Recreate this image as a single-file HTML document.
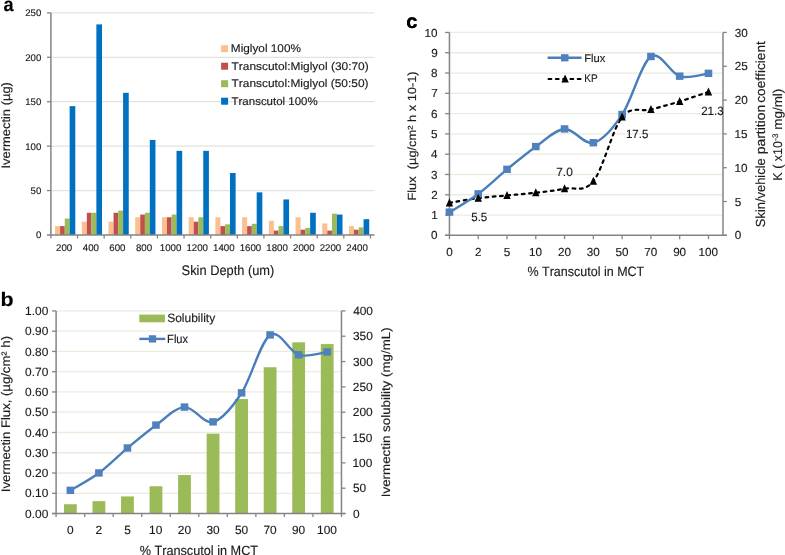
<!DOCTYPE html>
<html><head><meta charset="utf-8"><style>
html,body{margin:0;padding:0;background:#fff;width:785px;height:555px;overflow:hidden}
svg{display:block;will-change:transform}
text{font-family:"Liberation Sans",sans-serif;font-kerning:none;text-rendering:geometricPrecision;stroke-width:0.15px;white-space:pre}
</style></head><body>
<svg width="785" height="555" viewBox="0 0 785 555">
<rect width="785" height="555" fill="#fff"/>
<line x1="50.9" y1="190.57" x2="374.5" y2="190.57" stroke="#e4e3da" stroke-width="1.3"/>
<line x1="50.9" y1="146.14" x2="374.5" y2="146.14" stroke="#e4e3da" stroke-width="1.3"/>
<line x1="50.9" y1="101.71" x2="374.5" y2="101.71" stroke="#e4e3da" stroke-width="1.3"/>
<line x1="50.9" y1="57.28" x2="374.5" y2="57.28" stroke="#e4e3da" stroke-width="1.3"/>
<line x1="50.9" y1="12.85" x2="374.5" y2="12.85" stroke="#e4e3da" stroke-width="1.3"/>
<rect x="55.05" y="226.11" width="5.05" height="8.89" fill="#fac090"/>
<rect x="60.1" y="226.11" width="4.65" height="8.89" fill="#c0504d"/>
<rect x="64.75" y="218.56" width="4.9" height="16.44" fill="#9bbb59"/>
<rect x="69.65" y="106.15" width="5.65" height="128.85" fill="#0070c0"/>
<rect x="81.77" y="221.67" width="5.05" height="13.33" fill="#fac090"/>
<rect x="86.82" y="212.78" width="4.65" height="22.22" fill="#c0504d"/>
<rect x="91.47" y="212.78" width="4.9" height="22.22" fill="#9bbb59"/>
<rect x="96.37" y="24.4" width="5.65" height="210.6" fill="#0070c0"/>
<rect x="108.49" y="221.67" width="5.05" height="13.33" fill="#fac090"/>
<rect x="113.54" y="212.78" width="4.65" height="22.22" fill="#c0504d"/>
<rect x="118.19" y="210.56" width="4.9" height="24.44" fill="#9bbb59"/>
<rect x="123.09" y="92.82" width="5.65" height="142.18" fill="#0070c0"/>
<rect x="135.21" y="217.23" width="5.05" height="17.77" fill="#fac090"/>
<rect x="140.26" y="214.56" width="4.65" height="20.44" fill="#c0504d"/>
<rect x="144.91" y="212.78" width="4.9" height="22.22" fill="#9bbb59"/>
<rect x="149.81" y="139.92" width="5.65" height="95.08" fill="#0070c0"/>
<rect x="161.93" y="217.23" width="5.05" height="17.77" fill="#fac090"/>
<rect x="166.98" y="217.23" width="4.65" height="17.77" fill="#c0504d"/>
<rect x="171.63" y="214.56" width="4.9" height="20.44" fill="#9bbb59"/>
<rect x="176.53" y="150.85" width="5.65" height="84.15" fill="#0070c0"/>
<rect x="188.65" y="217.23" width="5.05" height="17.77" fill="#fac090"/>
<rect x="193.7" y="221.67" width="4.65" height="13.33" fill="#c0504d"/>
<rect x="198.35" y="217.23" width="4.9" height="17.77" fill="#9bbb59"/>
<rect x="203.25" y="150.85" width="5.65" height="84.15" fill="#0070c0"/>
<rect x="215.37" y="217.23" width="5.05" height="17.77" fill="#fac090"/>
<rect x="220.42" y="226.11" width="4.65" height="8.89" fill="#c0504d"/>
<rect x="225.07" y="224.34" width="4.9" height="10.66" fill="#9bbb59"/>
<rect x="229.97" y="172.98" width="5.65" height="62.02" fill="#0070c0"/>
<rect x="242.09" y="217.23" width="5.05" height="17.77" fill="#fac090"/>
<rect x="247.14" y="226.11" width="4.65" height="8.89" fill="#c0504d"/>
<rect x="251.79" y="223.8" width="4.9" height="11.2" fill="#9bbb59"/>
<rect x="256.69" y="192.35" width="5.65" height="42.65" fill="#0070c0"/>
<rect x="268.81" y="220.78" width="5.05" height="14.22" fill="#fac090"/>
<rect x="273.86" y="230.56" width="4.65" height="4.44" fill="#c0504d"/>
<rect x="278.51" y="226.11" width="4.9" height="8.89" fill="#9bbb59"/>
<rect x="283.41" y="199.46" width="5.65" height="35.54" fill="#0070c0"/>
<rect x="295.53" y="217.23" width="5.05" height="17.77" fill="#fac090"/>
<rect x="300.58" y="229.67" width="4.65" height="5.33" fill="#c0504d"/>
<rect x="305.23" y="227.89" width="4.9" height="7.11" fill="#9bbb59"/>
<rect x="310.13" y="212.78" width="5.65" height="22.22" fill="#0070c0"/>
<rect x="322.25" y="223.45" width="5.05" height="11.55" fill="#fac090"/>
<rect x="327.3" y="230.56" width="4.65" height="4.44" fill="#c0504d"/>
<rect x="331.95" y="213.67" width="4.9" height="21.33" fill="#9bbb59"/>
<rect x="336.85" y="214.56" width="5.65" height="20.44" fill="#0070c0"/>
<rect x="348.97" y="226.11" width="5.05" height="8.89" fill="#fac090"/>
<rect x="354.02" y="229.67" width="4.65" height="5.33" fill="#c0504d"/>
<rect x="358.67" y="227.36" width="4.9" height="7.64" fill="#9bbb59"/>
<rect x="363.57" y="219.18" width="5.65" height="15.82" fill="#0070c0"/>
<line x1="50.9" y1="13" x2="50.9" y2="235.7" stroke="#848484" stroke-width="1.5"/>
<line x1="47" y1="235.0" x2="374.5" y2="235.0" stroke="#848484" stroke-width="1.5"/>
<line x1="47" y1="190.57" x2="50.9" y2="190.57" stroke="#848484" stroke-width="1.3"/>
<line x1="47" y1="146.14" x2="50.9" y2="146.14" stroke="#848484" stroke-width="1.3"/>
<line x1="47" y1="101.71" x2="50.9" y2="101.71" stroke="#848484" stroke-width="1.3"/>
<line x1="47" y1="57.28" x2="50.9" y2="57.28" stroke="#848484" stroke-width="1.3"/>
<line x1="47" y1="12.85" x2="50.9" y2="12.85" stroke="#848484" stroke-width="1.3"/>
<line x1="50.9" y1="235.0" x2="50.9" y2="238.5" stroke="#848484" stroke-width="1.3"/>
<line x1="77.53" y1="235.0" x2="77.53" y2="238.5" stroke="#848484" stroke-width="1.3"/>
<line x1="104.16" y1="235.0" x2="104.16" y2="238.5" stroke="#848484" stroke-width="1.3"/>
<line x1="130.79" y1="235.0" x2="130.79" y2="238.5" stroke="#848484" stroke-width="1.3"/>
<line x1="157.42" y1="235.0" x2="157.42" y2="238.5" stroke="#848484" stroke-width="1.3"/>
<line x1="184.05" y1="235.0" x2="184.05" y2="238.5" stroke="#848484" stroke-width="1.3"/>
<line x1="210.68" y1="235.0" x2="210.68" y2="238.5" stroke="#848484" stroke-width="1.3"/>
<line x1="237.31" y1="235.0" x2="237.31" y2="238.5" stroke="#848484" stroke-width="1.3"/>
<line x1="263.94" y1="235.0" x2="263.94" y2="238.5" stroke="#848484" stroke-width="1.3"/>
<line x1="290.57" y1="235.0" x2="290.57" y2="238.5" stroke="#848484" stroke-width="1.3"/>
<line x1="317.2" y1="235.0" x2="317.2" y2="238.5" stroke="#848484" stroke-width="1.3"/>
<line x1="343.83" y1="235.0" x2="343.83" y2="238.5" stroke="#848484" stroke-width="1.3"/>
<line x1="370.46" y1="235.0" x2="370.46" y2="238.5" stroke="#848484" stroke-width="1.3"/>
<text x="35.94" y="238.4" font-size="9.6" font-weight="normal" fill="#1c1c1c" stroke="#1c1c1c" textLength="5.34" lengthAdjust="spacingAndGlyphs">0</text>
<text x="30.6" y="193.97" font-size="9.6" font-weight="normal" fill="#1c1c1c" stroke="#1c1c1c" textLength="10.68" lengthAdjust="spacingAndGlyphs">50</text>
<text x="25.26" y="149.54" font-size="9.6" font-weight="normal" fill="#1c1c1c" stroke="#1c1c1c" textLength="16.02" lengthAdjust="spacingAndGlyphs">100</text>
<text x="25.26" y="105.11" font-size="9.6" font-weight="normal" fill="#1c1c1c" stroke="#1c1c1c" textLength="16.02" lengthAdjust="spacingAndGlyphs">150</text>
<text x="25.26" y="60.68" font-size="9.6" font-weight="normal" fill="#1c1c1c" stroke="#1c1c1c" textLength="16.02" lengthAdjust="spacingAndGlyphs">200</text>
<text x="25.26" y="16.25" font-size="9.6" font-weight="normal" fill="#1c1c1c" stroke="#1c1c1c" textLength="16.02" lengthAdjust="spacingAndGlyphs">250</text>
<text x="56.07" y="251.2" font-size="9.7" font-weight="normal" fill="#1c1c1c" stroke="#1c1c1c" textLength="16.18" lengthAdjust="spacingAndGlyphs">200</text>
<text x="82.83" y="251.2" font-size="9.7" font-weight="normal" fill="#1c1c1c" stroke="#1c1c1c" textLength="16.18" lengthAdjust="spacingAndGlyphs">400</text>
<text x="109.33" y="251.2" font-size="9.7" font-weight="normal" fill="#1c1c1c" stroke="#1c1c1c" textLength="16.18" lengthAdjust="spacingAndGlyphs">600</text>
<text x="135.99" y="251.2" font-size="9.7" font-weight="normal" fill="#1c1c1c" stroke="#1c1c1c" textLength="16.18" lengthAdjust="spacingAndGlyphs">800</text>
<text x="159.77" y="251.2" font-size="9.7" font-weight="normal" fill="#1c1c1c" stroke="#1c1c1c" textLength="21.58" lengthAdjust="spacingAndGlyphs">1000</text>
<text x="186.4" y="251.2" font-size="9.7" font-weight="normal" fill="#1c1c1c" stroke="#1c1c1c" textLength="21.58" lengthAdjust="spacingAndGlyphs">1200</text>
<text x="213.03" y="251.2" font-size="9.7" font-weight="normal" fill="#1c1c1c" stroke="#1c1c1c" textLength="21.58" lengthAdjust="spacingAndGlyphs">1400</text>
<text x="239.66" y="251.2" font-size="9.7" font-weight="normal" fill="#1c1c1c" stroke="#1c1c1c" textLength="21.58" lengthAdjust="spacingAndGlyphs">1600</text>
<text x="266.29" y="251.2" font-size="9.7" font-weight="normal" fill="#1c1c1c" stroke="#1c1c1c" textLength="21.58" lengthAdjust="spacingAndGlyphs">1800</text>
<text x="293.04" y="251.2" font-size="9.7" font-weight="normal" fill="#1c1c1c" stroke="#1c1c1c" textLength="21.58" lengthAdjust="spacingAndGlyphs">2000</text>
<text x="319.67" y="251.2" font-size="9.7" font-weight="normal" fill="#1c1c1c" stroke="#1c1c1c" textLength="21.58" lengthAdjust="spacingAndGlyphs">2200</text>
<text x="346.3" y="251.2" font-size="9.7" font-weight="normal" fill="#1c1c1c" stroke="#1c1c1c" textLength="21.58" lengthAdjust="spacingAndGlyphs">2400</text>
<rect x="221.1" y="45.2" width="7" height="7" fill="#fac090"/>
<text x="230.83" y="52.4" font-size="11.2" font-weight="normal" fill="#1c1c1c" stroke="#1c1c1c" textLength="70.09" lengthAdjust="spacingAndGlyphs">Miglyol 100%</text>
<rect x="221.1" y="62.7" width="7" height="7" fill="#c0504d"/>
<text x="231.53" y="69.9" font-size="11.2" font-weight="normal" fill="#1c1c1c" stroke="#1c1c1c" textLength="137.21" lengthAdjust="spacingAndGlyphs">Transcutol:Miglyol (30:70)</text>
<rect x="221.1" y="80.2" width="7" height="7" fill="#9bbb59"/>
<text x="231.53" y="87.4" font-size="11.2" font-weight="normal" fill="#1c1c1c" stroke="#1c1c1c" textLength="137.01" lengthAdjust="spacingAndGlyphs">Transcutol:Miglyol (50:50)</text>
<rect x="221.1" y="97.7" width="7" height="7" fill="#0070c0"/>
<text x="231.54" y="104.9" font-size="11.2" font-weight="normal" fill="#1c1c1c" stroke="#1c1c1c" textLength="86.17" lengthAdjust="spacingAndGlyphs">Transcutol 100%</text>
<text x="181.62" y="274.6" font-size="13.8" font-weight="normal" fill="#1c1c1c" stroke="#1c1c1c" textLength="92.68" lengthAdjust="spacingAndGlyphs">Skin Depth (um)</text>
<text transform="translate(10.1 168.59) rotate(-90)" x="0" y="0" font-size="12.2" fill="#1c1c1c" stroke="#1c1c1c" textLength="86.5" lengthAdjust="spacingAndGlyphs">Ivermectin (µg)</text>
<text x="3.57" y="10.8" font-size="19.5" font-weight="bold" fill="#000" stroke="#000" textLength="10.12" lengthAdjust="spacingAndGlyphs">a</text>
<line x1="449.45" y1="215.06" x2="723.0" y2="215.06" stroke="#ecebe0" stroke-width="1.3"/>
<line x1="449.45" y1="194.77" x2="723.0" y2="194.77" stroke="#ecebe0" stroke-width="1.3"/>
<line x1="449.45" y1="174.48" x2="723.0" y2="174.48" stroke="#ecebe0" stroke-width="1.3"/>
<line x1="449.45" y1="154.19" x2="723.0" y2="154.19" stroke="#ecebe0" stroke-width="1.3"/>
<line x1="449.45" y1="133.9" x2="723.0" y2="133.9" stroke="#ecebe0" stroke-width="1.3"/>
<line x1="449.45" y1="113.61" x2="723.0" y2="113.61" stroke="#ecebe0" stroke-width="1.3"/>
<line x1="449.45" y1="93.32" x2="723.0" y2="93.32" stroke="#ecebe0" stroke-width="1.3"/>
<line x1="449.45" y1="73.03" x2="723.0" y2="73.03" stroke="#ecebe0" stroke-width="1.3"/>
<line x1="449.45" y1="52.74" x2="723.0" y2="52.74" stroke="#ecebe0" stroke-width="1.3"/>
<line x1="449.45" y1="32.45" x2="723.0" y2="32.45" stroke="#ecebe0" stroke-width="1.3"/>
<line x1="449.45" y1="32.45" x2="449.45" y2="235.35" stroke="#848484" stroke-width="1.5"/>
<line x1="723.0" y1="32.45" x2="723.0" y2="235.35" stroke="#848484" stroke-width="1.5"/>
<line x1="445.1" y1="235.35" x2="726.8" y2="235.35" stroke="#848484" stroke-width="1.5"/>
<line x1="445.1" y1="235.35" x2="449.45" y2="235.35" stroke="#848484" stroke-width="1.3"/>
<text x="431.05" y="239.45" font-size="11.7" font-weight="normal" fill="#1c1c1c" stroke="#1c1c1c" textLength="6.51" lengthAdjust="spacingAndGlyphs">0</text>
<line x1="445.1" y1="215.06" x2="449.45" y2="215.06" stroke="#848484" stroke-width="1.3"/>
<text x="431.16" y="219.16" font-size="11.7" font-weight="normal" fill="#1c1c1c" stroke="#1c1c1c" textLength="6.51" lengthAdjust="spacingAndGlyphs">1</text>
<line x1="445.1" y1="194.77" x2="449.45" y2="194.77" stroke="#848484" stroke-width="1.3"/>
<text x="431.18" y="198.87" font-size="11.7" font-weight="normal" fill="#1c1c1c" stroke="#1c1c1c" textLength="6.51" lengthAdjust="spacingAndGlyphs">2</text>
<line x1="445.1" y1="174.48" x2="449.45" y2="174.48" stroke="#848484" stroke-width="1.3"/>
<text x="431.11" y="178.58" font-size="11.7" font-weight="normal" fill="#1c1c1c" stroke="#1c1c1c" textLength="6.51" lengthAdjust="spacingAndGlyphs">3</text>
<line x1="445.1" y1="154.19" x2="449.45" y2="154.19" stroke="#848484" stroke-width="1.3"/>
<text x="430.94" y="158.29" font-size="11.7" font-weight="normal" fill="#1c1c1c" stroke="#1c1c1c" textLength="6.51" lengthAdjust="spacingAndGlyphs">4</text>
<line x1="445.1" y1="133.9" x2="449.45" y2="133.9" stroke="#848484" stroke-width="1.3"/>
<text x="431.08" y="138" font-size="11.7" font-weight="normal" fill="#1c1c1c" stroke="#1c1c1c" textLength="6.51" lengthAdjust="spacingAndGlyphs">5</text>
<line x1="445.1" y1="113.61" x2="449.45" y2="113.61" stroke="#848484" stroke-width="1.3"/>
<text x="431.11" y="117.71" font-size="11.7" font-weight="normal" fill="#1c1c1c" stroke="#1c1c1c" textLength="6.51" lengthAdjust="spacingAndGlyphs">6</text>
<line x1="445.1" y1="93.32" x2="449.45" y2="93.32" stroke="#848484" stroke-width="1.3"/>
<text x="431.18" y="97.42" font-size="11.7" font-weight="normal" fill="#1c1c1c" stroke="#1c1c1c" textLength="6.51" lengthAdjust="spacingAndGlyphs">7</text>
<line x1="445.1" y1="73.03" x2="449.45" y2="73.03" stroke="#848484" stroke-width="1.3"/>
<text x="431.1" y="77.13" font-size="11.7" font-weight="normal" fill="#1c1c1c" stroke="#1c1c1c" textLength="6.51" lengthAdjust="spacingAndGlyphs">8</text>
<line x1="445.1" y1="52.74" x2="449.45" y2="52.74" stroke="#848484" stroke-width="1.3"/>
<text x="431.15" y="56.84" font-size="11.7" font-weight="normal" fill="#1c1c1c" stroke="#1c1c1c" textLength="6.51" lengthAdjust="spacingAndGlyphs">9</text>
<line x1="445.1" y1="32.45" x2="449.45" y2="32.45" stroke="#848484" stroke-width="1.3"/>
<text x="424.54" y="36.55" font-size="11.7" font-weight="normal" fill="#1c1c1c" stroke="#1c1c1c" textLength="13.01" lengthAdjust="spacingAndGlyphs">10</text>
<line x1="723.0" y1="235.35" x2="726.8" y2="235.35" stroke="#848484" stroke-width="1.3"/>
<text x="734.84" y="239.45" font-size="11.7" font-weight="normal" fill="#1c1c1c" stroke="#1c1c1c" textLength="6.51" lengthAdjust="spacingAndGlyphs">0</text>
<line x1="723.0" y1="201.53" x2="726.8" y2="201.53" stroke="#848484" stroke-width="1.3"/>
<text x="734.83" y="205.63" font-size="11.7" font-weight="normal" fill="#1c1c1c" stroke="#1c1c1c" textLength="6.51" lengthAdjust="spacingAndGlyphs">5</text>
<line x1="723.0" y1="167.72" x2="726.8" y2="167.72" stroke="#848484" stroke-width="1.3"/>
<text x="734.41" y="171.82" font-size="11.7" font-weight="normal" fill="#1c1c1c" stroke="#1c1c1c" textLength="13.01" lengthAdjust="spacingAndGlyphs">10</text>
<line x1="723.0" y1="133.9" x2="726.8" y2="133.9" stroke="#848484" stroke-width="1.3"/>
<text x="734.41" y="138" font-size="11.7" font-weight="normal" fill="#1c1c1c" stroke="#1c1c1c" textLength="13.01" lengthAdjust="spacingAndGlyphs">15</text>
<line x1="723.0" y1="100.08" x2="726.8" y2="100.08" stroke="#848484" stroke-width="1.3"/>
<text x="734.71" y="104.18" font-size="11.7" font-weight="normal" fill="#1c1c1c" stroke="#1c1c1c" textLength="13.01" lengthAdjust="spacingAndGlyphs">20</text>
<line x1="723.0" y1="66.27" x2="726.8" y2="66.27" stroke="#848484" stroke-width="1.3"/>
<text x="734.71" y="70.37" font-size="11.7" font-weight="normal" fill="#1c1c1c" stroke="#1c1c1c" textLength="13.01" lengthAdjust="spacingAndGlyphs">25</text>
<line x1="723.0" y1="32.45" x2="726.8" y2="32.45" stroke="#848484" stroke-width="1.3"/>
<text x="734.85" y="36.55" font-size="11.7" font-weight="normal" fill="#1c1c1c" stroke="#1c1c1c" textLength="13.01" lengthAdjust="spacingAndGlyphs">30</text>
<line x1="449.45" y1="235.35" x2="449.45" y2="239.2" stroke="#848484" stroke-width="1.3"/>
<text x="446.2" y="255.7" font-size="11.7" font-weight="normal" fill="#1c1c1c" stroke="#1c1c1c" textLength="6.51" lengthAdjust="spacingAndGlyphs">0</text>
<line x1="478.23" y1="235.35" x2="478.23" y2="239.2" stroke="#848484" stroke-width="1.3"/>
<text x="474.98" y="255.7" font-size="11.7" font-weight="normal" fill="#1c1c1c" stroke="#1c1c1c" textLength="6.51" lengthAdjust="spacingAndGlyphs">2</text>
<line x1="507.01" y1="235.35" x2="507.01" y2="239.2" stroke="#848484" stroke-width="1.3"/>
<text x="503.77" y="255.7" font-size="11.7" font-weight="normal" fill="#1c1c1c" stroke="#1c1c1c" textLength="6.51" lengthAdjust="spacingAndGlyphs">5</text>
<line x1="535.79" y1="235.35" x2="535.79" y2="239.2" stroke="#848484" stroke-width="1.3"/>
<text x="529.07" y="255.7" font-size="11.7" font-weight="normal" fill="#1c1c1c" stroke="#1c1c1c" textLength="13.01" lengthAdjust="spacingAndGlyphs">10</text>
<line x1="564.57" y1="235.35" x2="564.57" y2="239.2" stroke="#848484" stroke-width="1.3"/>
<text x="558" y="255.7" font-size="11.7" font-weight="normal" fill="#1c1c1c" stroke="#1c1c1c" textLength="13.01" lengthAdjust="spacingAndGlyphs">20</text>
<line x1="593.35" y1="235.35" x2="593.35" y2="239.2" stroke="#848484" stroke-width="1.3"/>
<text x="586.85" y="255.7" font-size="11.7" font-weight="normal" fill="#1c1c1c" stroke="#1c1c1c" textLength="13.01" lengthAdjust="spacingAndGlyphs">30</text>
<line x1="622.13" y1="235.35" x2="622.13" y2="239.2" stroke="#848484" stroke-width="1.3"/>
<text x="615.62" y="255.7" font-size="11.7" font-weight="normal" fill="#1c1c1c" stroke="#1c1c1c" textLength="13.01" lengthAdjust="spacingAndGlyphs">50</text>
<line x1="650.91" y1="235.35" x2="650.91" y2="239.2" stroke="#848484" stroke-width="1.3"/>
<text x="644.33" y="255.7" font-size="11.7" font-weight="normal" fill="#1c1c1c" stroke="#1c1c1c" textLength="13.01" lengthAdjust="spacingAndGlyphs">70</text>
<line x1="679.69" y1="235.35" x2="679.69" y2="239.2" stroke="#848484" stroke-width="1.3"/>
<text x="673.14" y="255.7" font-size="11.7" font-weight="normal" fill="#1c1c1c" stroke="#1c1c1c" textLength="13.01" lengthAdjust="spacingAndGlyphs">90</text>
<line x1="708.47" y1="235.35" x2="708.47" y2="239.2" stroke="#848484" stroke-width="1.3"/>
<text x="698.49" y="255.7" font-size="11.7" font-weight="normal" fill="#1c1c1c" stroke="#1c1c1c" textLength="19.52" lengthAdjust="spacingAndGlyphs">100</text>
<text x="527.45" y="276.3" font-size="13.5" font-weight="normal" fill="#1c1c1c" stroke="#1c1c1c" textLength="116.83" lengthAdjust="spacingAndGlyphs">% Transcutol in MCT</text>
<path d="M449.45 202.89 C454.25 202.1 468.64 199.39 478.23 198.15 C487.82 196.91 497.42 196.35 507.01 195.45 C516.6 194.54 526.2 193.87 535.79 192.74 C545.38 191.61 554.98 190.6 564.57 188.68 C574.16 186.77 583.76 193.19 593.35 181.24 C602.94 169.29 612.54 128.94 622.13 116.99 C631.72 105.04 641.32 112.14 650.91 109.55 C660.5 106.96 670.1 104.37 679.69 101.44 C689.28 98.51 703.67 93.55 708.47 91.97" fill="none" stroke="#000" stroke-width="2.2" stroke-linecap="round" stroke-dasharray="2.7 4.6"/>
<path d="M449.45 212.22 C454.25 209.18 468.64 201.09 478.23 193.96 C487.82 186.82 497.42 177.29 507.01 169.41 C516.6 161.53 526.2 153.41 535.79 146.68 C545.38 139.95 554.98 129.67 564.57 129.03 C574.16 128.39 583.76 145.23 593.35 142.83 C602.94 140.43 612.54 129 622.13 114.62 C631.72 100.25 641.32 62.99 650.91 56.6 C660.5 50.2 670.1 73.47 679.69 76.28 C689.28 79.08 703.67 73.91 708.47 73.44" fill="none" stroke="#4a7ebb" stroke-width="2.4"/>
<rect x="445.65" y="208.42" width="7.6" height="7.4" fill="#4f81bd"/>
<rect x="474.43" y="190.16" width="7.6" height="7.4" fill="#4f81bd"/>
<rect x="503.21" y="165.61" width="7.6" height="7.4" fill="#4f81bd"/>
<rect x="531.99" y="142.88" width="7.6" height="7.4" fill="#4f81bd"/>
<rect x="560.77" y="125.23" width="7.6" height="7.4" fill="#4f81bd"/>
<rect x="589.55" y="139.03" width="7.6" height="7.4" fill="#4f81bd"/>
<rect x="618.33" y="110.82" width="7.6" height="7.4" fill="#4f81bd"/>
<rect x="647.11" y="52.8" width="7.6" height="7.4" fill="#4f81bd"/>
<rect x="675.89" y="72.48" width="7.6" height="7.4" fill="#4f81bd"/>
<rect x="704.67" y="69.64" width="7.6" height="7.4" fill="#4f81bd"/>
<path d="M449.45 198.39 L453.15 206.39 L445.75 206.39Z" fill="#000"/>
<path d="M478.23 193.65 L481.93 201.65 L474.53 201.65Z" fill="#000"/>
<path d="M507.01 190.95 L510.71 198.95 L503.31 198.95Z" fill="#000"/>
<path d="M535.79 188.24 L539.49 196.24 L532.09 196.24Z" fill="#000"/>
<path d="M564.57 184.18 L568.27 192.18 L560.87 192.18Z" fill="#000"/>
<path d="M593.35 176.74 L597.05 184.74 L589.65 184.74Z" fill="#000"/>
<path d="M622.13 112.49 L625.83 120.49 L618.43 120.49Z" fill="#000"/>
<path d="M650.91 105.05 L654.61 113.05 L647.21 113.05Z" fill="#000"/>
<path d="M679.69 96.94 L683.39 104.94 L675.99 104.94Z" fill="#000"/>
<path d="M708.47 87.47 L712.17 95.47 L704.77 95.47Z" fill="#000"/>
<text x="471.24" y="220.9" font-size="12" font-weight="normal" fill="#1c1c1c" stroke="#1c1c1c" textLength="16.05" lengthAdjust="spacingAndGlyphs">5.5</text>
<text x="556.29" y="175.5" font-size="12" font-weight="normal" fill="#1c1c1c" stroke="#1c1c1c" textLength="16.47" lengthAdjust="spacingAndGlyphs">7.0</text>
<text x="625.97" y="137.9" font-size="12" font-weight="normal" fill="#1c1c1c" stroke="#1c1c1c" textLength="22.41" lengthAdjust="spacingAndGlyphs">17.5</text>
<text x="701.17" y="114.9" font-size="12" font-weight="normal" fill="#1c1c1c" stroke="#1c1c1c" textLength="22.54" lengthAdjust="spacingAndGlyphs">21.3</text>
<line x1="547.6" y1="57.8" x2="581.6" y2="57.8" stroke="#4a7ebb" stroke-width="2.4"/>
<rect x="561.0" y="54.2" width="7.5" height="7.2" fill="#4f81bd"/>
<text x="584.18" y="61.6" font-size="11.2" font-weight="normal" fill="#1c1c1c" stroke="#1c1c1c" textLength="21.14" lengthAdjust="spacingAndGlyphs">Flux</text>
<line x1="548.6" y1="79" x2="580.9" y2="79" stroke="#000" stroke-width="2.2" stroke-linecap="round" stroke-dasharray="2.7 4.6"/>
<path d="M565.1 74.5 L568.8 82.5 L561.4 82.5Z" fill="#000"/>
<text x="584.28" y="82.3" font-size="11.2" font-weight="normal" fill="#1c1c1c" stroke="#1c1c1c" textLength="13.35" lengthAdjust="spacingAndGlyphs">KP</text>
<text x="406.22" y="28.4" font-size="20" font-weight="bold" fill="#000" stroke="#000" textLength="11.17" lengthAdjust="spacingAndGlyphs">c</text>
<text transform="translate(416.3 200.55) rotate(-90)" x="0" y="0" font-size="11.8" fill="#1c1c1c" stroke="#1c1c1c" textLength="129.15" lengthAdjust="spacingAndGlyphs">Flux  (µg/cm² h x 10-1)</text>
<text transform="translate(765 227.19) rotate(-90)" x="0" y="0" font-size="13.2" fill="#1c1c1c" stroke="#1c1c1c" textLength="68.96" lengthAdjust="spacingAndGlyphs">Skin/vehicle</text>
<text transform="translate(765 154.29) rotate(-90)" x="0" y="0" font-size="13.2" fill="#1c1c1c" stroke="#1c1c1c" textLength="49.4" lengthAdjust="spacingAndGlyphs">partition</text>
<text transform="translate(765 102.78) rotate(-90)" x="0" y="0" font-size="13.2" fill="#1c1c1c" stroke="#1c1c1c" textLength="61.68" lengthAdjust="spacingAndGlyphs">coefficient</text>
<text transform="translate(782.4 180.63) rotate(-90)" x="0" y="0" font-size="12.8" fill="#1c1c1c" stroke="#1c1c1c" textLength="39.61" lengthAdjust="spacingAndGlyphs">K ( x10</text>
<text transform="translate(778.2 140.76) rotate(-90)" x="0" y="0" font-size="8.2" fill="#1c1c1c" stroke="#1c1c1c" textLength="7.11" lengthAdjust="spacingAndGlyphs">-3</text>
<text transform="translate(782.4 129.79) rotate(-90)" x="0" y="0" font-size="12.8" fill="#1c1c1c" stroke="#1c1c1c" textLength="41.13" lengthAdjust="spacingAndGlyphs">mg/ml)</text>
<text x="406.22" y="28.4" font-size="20" font-weight="bold" fill="#000" stroke="#000" textLength="11.17" lengthAdjust="spacingAndGlyphs">c</text>
<line x1="56.1" y1="493.28" x2="341.46" y2="493.28" stroke="#ecebe0" stroke-width="1.3"/>
<line x1="56.1" y1="473.02" x2="341.46" y2="473.02" stroke="#ecebe0" stroke-width="1.3"/>
<line x1="56.1" y1="452.75" x2="341.46" y2="452.75" stroke="#ecebe0" stroke-width="1.3"/>
<line x1="56.1" y1="432.49" x2="341.46" y2="432.49" stroke="#ecebe0" stroke-width="1.3"/>
<line x1="56.1" y1="412.22" x2="341.46" y2="412.22" stroke="#ecebe0" stroke-width="1.3"/>
<line x1="56.1" y1="391.96" x2="341.46" y2="391.96" stroke="#ecebe0" stroke-width="1.3"/>
<line x1="56.1" y1="371.69" x2="341.46" y2="371.69" stroke="#ecebe0" stroke-width="1.3"/>
<line x1="56.1" y1="351.43" x2="341.46" y2="351.43" stroke="#ecebe0" stroke-width="1.3"/>
<line x1="56.1" y1="331.16" x2="341.46" y2="331.16" stroke="#ecebe0" stroke-width="1.3"/>
<line x1="56.1" y1="310.9" x2="341.46" y2="310.9" stroke="#ecebe0" stroke-width="1.3"/>
<rect x="63.97" y="504.23" width="12.8" height="9.32" fill="#9bbb59"/>
<rect x="92.5" y="501.14" width="12.8" height="12.41" fill="#9bbb59"/>
<rect x="121.04" y="496.43" width="12.8" height="17.12" fill="#9bbb59"/>
<rect x="149.58" y="486.24" width="12.8" height="27.31" fill="#9bbb59"/>
<rect x="178.11" y="475.05" width="12.8" height="38.5" fill="#9bbb59"/>
<rect x="206.65" y="433.66" width="12.8" height="79.89" fill="#9bbb59"/>
<rect x="235.18" y="399.05" width="12.8" height="114.5" fill="#9bbb59"/>
<rect x="263.72" y="367.24" width="12.8" height="146.31" fill="#9bbb59"/>
<rect x="292.26" y="342.31" width="12.8" height="171.24" fill="#9bbb59"/>
<rect x="320.79" y="344.08" width="12.8" height="169.47" fill="#9bbb59"/>
<line x1="56.1" y1="310.9" x2="56.1" y2="513.55" stroke="#848484" stroke-width="1.5"/>
<line x1="341.46" y1="310.9" x2="341.46" y2="513.55" stroke="#848484" stroke-width="1.5"/>
<line x1="52" y1="513.55" x2="345.5" y2="513.55" stroke="#848484" stroke-width="1.5"/>
<line x1="52" y1="513.55" x2="56.1" y2="513.55" stroke="#848484" stroke-width="1.3"/>
<text x="25.1" y="517.65" font-size="11.9" font-weight="normal" fill="#1c1c1c" stroke="#1c1c1c" textLength="23.16" lengthAdjust="spacingAndGlyphs">0.00</text>
<line x1="52" y1="493.28" x2="56.1" y2="493.28" stroke="#848484" stroke-width="1.3"/>
<text x="25.1" y="497.38" font-size="11.9" font-weight="normal" fill="#1c1c1c" stroke="#1c1c1c" textLength="23.16" lengthAdjust="spacingAndGlyphs">0.10</text>
<line x1="52" y1="473.02" x2="56.1" y2="473.02" stroke="#848484" stroke-width="1.3"/>
<text x="25.1" y="477.12" font-size="11.9" font-weight="normal" fill="#1c1c1c" stroke="#1c1c1c" textLength="23.16" lengthAdjust="spacingAndGlyphs">0.20</text>
<line x1="52" y1="452.75" x2="56.1" y2="452.75" stroke="#848484" stroke-width="1.3"/>
<text x="25.1" y="456.85" font-size="11.9" font-weight="normal" fill="#1c1c1c" stroke="#1c1c1c" textLength="23.16" lengthAdjust="spacingAndGlyphs">0.30</text>
<line x1="52" y1="432.49" x2="56.1" y2="432.49" stroke="#848484" stroke-width="1.3"/>
<text x="25.1" y="436.59" font-size="11.9" font-weight="normal" fill="#1c1c1c" stroke="#1c1c1c" textLength="23.16" lengthAdjust="spacingAndGlyphs">0.40</text>
<line x1="52" y1="412.22" x2="56.1" y2="412.22" stroke="#848484" stroke-width="1.3"/>
<text x="25.1" y="416.32" font-size="11.9" font-weight="normal" fill="#1c1c1c" stroke="#1c1c1c" textLength="23.16" lengthAdjust="spacingAndGlyphs">0.50</text>
<line x1="52" y1="391.96" x2="56.1" y2="391.96" stroke="#848484" stroke-width="1.3"/>
<text x="25.1" y="396.06" font-size="11.9" font-weight="normal" fill="#1c1c1c" stroke="#1c1c1c" textLength="23.16" lengthAdjust="spacingAndGlyphs">0.60</text>
<line x1="52" y1="371.69" x2="56.1" y2="371.69" stroke="#848484" stroke-width="1.3"/>
<text x="25.1" y="375.79" font-size="11.9" font-weight="normal" fill="#1c1c1c" stroke="#1c1c1c" textLength="23.16" lengthAdjust="spacingAndGlyphs">0.70</text>
<line x1="52" y1="351.43" x2="56.1" y2="351.43" stroke="#848484" stroke-width="1.3"/>
<text x="25.1" y="355.53" font-size="11.9" font-weight="normal" fill="#1c1c1c" stroke="#1c1c1c" textLength="23.16" lengthAdjust="spacingAndGlyphs">0.80</text>
<line x1="52" y1="331.16" x2="56.1" y2="331.16" stroke="#848484" stroke-width="1.3"/>
<text x="25.1" y="335.26" font-size="11.9" font-weight="normal" fill="#1c1c1c" stroke="#1c1c1c" textLength="23.16" lengthAdjust="spacingAndGlyphs">0.90</text>
<line x1="52" y1="310.9" x2="56.1" y2="310.9" stroke="#848484" stroke-width="1.3"/>
<text x="25.1" y="315" font-size="11.9" font-weight="normal" fill="#1c1c1c" stroke="#1c1c1c" textLength="23.16" lengthAdjust="spacingAndGlyphs">1.00</text>
<line x1="341.46" y1="513.55" x2="345.5" y2="513.55" stroke="#848484" stroke-width="1.3"/>
<text x="352.94" y="517.65" font-size="11.9" font-weight="normal" fill="#1c1c1c" stroke="#1c1c1c" textLength="6.62" lengthAdjust="spacingAndGlyphs">0</text>
<line x1="341.46" y1="488.22" x2="345.5" y2="488.22" stroke="#848484" stroke-width="1.3"/>
<text x="352.92" y="492.32" font-size="11.9" font-weight="normal" fill="#1c1c1c" stroke="#1c1c1c" textLength="13.24" lengthAdjust="spacingAndGlyphs">50</text>
<line x1="341.46" y1="462.89" x2="345.5" y2="462.89" stroke="#848484" stroke-width="1.3"/>
<text x="352.49" y="466.99" font-size="11.9" font-weight="normal" fill="#1c1c1c" stroke="#1c1c1c" textLength="19.85" lengthAdjust="spacingAndGlyphs">100</text>
<line x1="341.46" y1="437.56" x2="345.5" y2="437.56" stroke="#848484" stroke-width="1.3"/>
<text x="352.49" y="441.66" font-size="11.9" font-weight="normal" fill="#1c1c1c" stroke="#1c1c1c" textLength="19.85" lengthAdjust="spacingAndGlyphs">150</text>
<line x1="341.46" y1="412.22" x2="345.5" y2="412.22" stroke="#848484" stroke-width="1.3"/>
<text x="352.8" y="416.32" font-size="11.9" font-weight="normal" fill="#1c1c1c" stroke="#1c1c1c" textLength="19.85" lengthAdjust="spacingAndGlyphs">200</text>
<line x1="341.46" y1="386.89" x2="345.5" y2="386.89" stroke="#848484" stroke-width="1.3"/>
<text x="352.8" y="390.99" font-size="11.9" font-weight="normal" fill="#1c1c1c" stroke="#1c1c1c" textLength="19.85" lengthAdjust="spacingAndGlyphs">250</text>
<line x1="341.46" y1="361.56" x2="345.5" y2="361.56" stroke="#848484" stroke-width="1.3"/>
<text x="352.95" y="365.66" font-size="11.9" font-weight="normal" fill="#1c1c1c" stroke="#1c1c1c" textLength="19.85" lengthAdjust="spacingAndGlyphs">300</text>
<line x1="341.46" y1="336.23" x2="345.5" y2="336.23" stroke="#848484" stroke-width="1.3"/>
<text x="352.95" y="340.33" font-size="11.9" font-weight="normal" fill="#1c1c1c" stroke="#1c1c1c" textLength="19.85" lengthAdjust="spacingAndGlyphs">350</text>
<line x1="341.46" y1="310.9" x2="345.5" y2="310.9" stroke="#848484" stroke-width="1.3"/>
<text x="353.13" y="315" font-size="11.9" font-weight="normal" fill="#1c1c1c" stroke="#1c1c1c" textLength="19.85" lengthAdjust="spacingAndGlyphs">400</text>
<line x1="56.1" y1="513.55" x2="56.1" y2="517" stroke="#848484" stroke-width="1.3"/>
<line x1="84.64" y1="513.55" x2="84.64" y2="517" stroke="#848484" stroke-width="1.3"/>
<line x1="113.17" y1="513.55" x2="113.17" y2="517" stroke="#848484" stroke-width="1.3"/>
<line x1="141.71" y1="513.55" x2="141.71" y2="517" stroke="#848484" stroke-width="1.3"/>
<line x1="170.24" y1="513.55" x2="170.24" y2="517" stroke="#848484" stroke-width="1.3"/>
<line x1="198.78" y1="513.55" x2="198.78" y2="517" stroke="#848484" stroke-width="1.3"/>
<line x1="227.32" y1="513.55" x2="227.32" y2="517" stroke="#848484" stroke-width="1.3"/>
<line x1="255.85" y1="513.55" x2="255.85" y2="517" stroke="#848484" stroke-width="1.3"/>
<line x1="284.39" y1="513.55" x2="284.39" y2="517" stroke="#848484" stroke-width="1.3"/>
<line x1="312.92" y1="513.55" x2="312.92" y2="517" stroke="#848484" stroke-width="1.3"/>
<line x1="341.46" y1="513.55" x2="341.46" y2="517" stroke="#848484" stroke-width="1.3"/>
<text x="67.06" y="534" font-size="11.9" font-weight="normal" fill="#1c1c1c" stroke="#1c1c1c" textLength="6.62" lengthAdjust="spacingAndGlyphs">0</text>
<text x="95.59" y="534" font-size="11.9" font-weight="normal" fill="#1c1c1c" stroke="#1c1c1c" textLength="6.62" lengthAdjust="spacingAndGlyphs">2</text>
<text x="124.14" y="534" font-size="11.9" font-weight="normal" fill="#1c1c1c" stroke="#1c1c1c" textLength="6.62" lengthAdjust="spacingAndGlyphs">5</text>
<text x="149.14" y="534" font-size="11.9" font-weight="normal" fill="#1c1c1c" stroke="#1c1c1c" textLength="13.24" lengthAdjust="spacingAndGlyphs">10</text>
<text x="177.83" y="534" font-size="11.9" font-weight="normal" fill="#1c1c1c" stroke="#1c1c1c" textLength="13.24" lengthAdjust="spacingAndGlyphs">20</text>
<text x="206.44" y="534" font-size="11.9" font-weight="normal" fill="#1c1c1c" stroke="#1c1c1c" textLength="13.24" lengthAdjust="spacingAndGlyphs">30</text>
<text x="234.96" y="534" font-size="11.9" font-weight="normal" fill="#1c1c1c" stroke="#1c1c1c" textLength="13.24" lengthAdjust="spacingAndGlyphs">50</text>
<text x="263.43" y="534" font-size="11.9" font-weight="normal" fill="#1c1c1c" stroke="#1c1c1c" textLength="13.24" lengthAdjust="spacingAndGlyphs">70</text>
<text x="291.99" y="534" font-size="11.9" font-weight="normal" fill="#1c1c1c" stroke="#1c1c1c" textLength="13.24" lengthAdjust="spacingAndGlyphs">90</text>
<text x="317.04" y="534" font-size="11.9" font-weight="normal" fill="#1c1c1c" stroke="#1c1c1c" textLength="19.85" lengthAdjust="spacingAndGlyphs">100</text>
<text x="139.65" y="555.3" font-size="13.3" font-weight="normal" fill="#1c1c1c" stroke="#1c1c1c" textLength="118.44" lengthAdjust="spacingAndGlyphs">% Transcutol in MCT</text>
<path d="M70.37 490.45 C75.12 487.54 89.39 480.08 98.9 473.02 C108.42 465.96 117.93 456.06 127.44 448.09 C136.95 440.12 146.46 432.02 155.98 425.19 C165.49 418.37 175 407.7 184.51 407.16 C194.02 406.62 203.54 424.32 213.05 421.95 C222.56 419.59 232.07 407.46 241.58 392.97 C251.1 378.48 260.61 341.37 270.12 335.02 C279.63 328.67 289.14 352.04 298.66 354.88 C308.17 357.71 322.44 352.51 327.19 352.04" fill="none" stroke="#4a7ebb" stroke-width="2.4"/>
<rect x="66.57" y="486.65" width="7.6" height="7.4" fill="#4f81bd"/>
<rect x="95.1" y="469.22" width="7.6" height="7.4" fill="#4f81bd"/>
<rect x="123.64" y="444.29" width="7.6" height="7.4" fill="#4f81bd"/>
<rect x="152.18" y="421.39" width="7.6" height="7.4" fill="#4f81bd"/>
<rect x="180.71" y="403.36" width="7.6" height="7.4" fill="#4f81bd"/>
<rect x="209.25" y="418.15" width="7.6" height="7.4" fill="#4f81bd"/>
<rect x="237.78" y="389.17" width="7.6" height="7.4" fill="#4f81bd"/>
<rect x="266.32" y="331.22" width="7.6" height="7.4" fill="#4f81bd"/>
<rect x="294.86" y="351.08" width="7.6" height="7.4" fill="#4f81bd"/>
<rect x="323.39" y="348.24" width="7.6" height="7.4" fill="#4f81bd"/>
<rect x="139.3" y="314.6" width="25.6" height="7.7" fill="#9bbb59"/>
<text x="167.16" y="322.4" font-size="12" font-weight="normal" fill="#1c1c1c" stroke="#1c1c1c" textLength="47.97" lengthAdjust="spacingAndGlyphs">Solubility</text>
<line x1="139.3" y1="338.9" x2="165.3" y2="338.9" stroke="#4a7ebb" stroke-width="2.4"/>
<rect x="148.85" y="335.25" width="7.3" height="7.3" fill="#4f81bd"/>
<text x="167.09" y="342.7" font-size="12" font-weight="normal" fill="#1c1c1c" stroke="#1c1c1c" textLength="21.03" lengthAdjust="spacingAndGlyphs">Flux</text>
<text x="0.49" y="305.8" font-size="19.5" font-weight="bold" fill="#000" stroke="#000" textLength="13.09" lengthAdjust="spacingAndGlyphs">b</text>
<text transform="translate(9.6 492.21) rotate(-90)" x="0" y="0" font-size="12.4" fill="#1c1c1c" stroke="#1c1c1c" textLength="156.22" lengthAdjust="spacingAndGlyphs">Ivermectin Flux, (µg/cm² h)</text>
<text transform="translate(390 497.23) rotate(-90)" x="0" y="0" font-size="12.2" fill="#1c1c1c" stroke="#1c1c1c" textLength="169.96" lengthAdjust="spacingAndGlyphs">Ivermectin solubility (mg/mL)</text>
</svg>
</body></html>
